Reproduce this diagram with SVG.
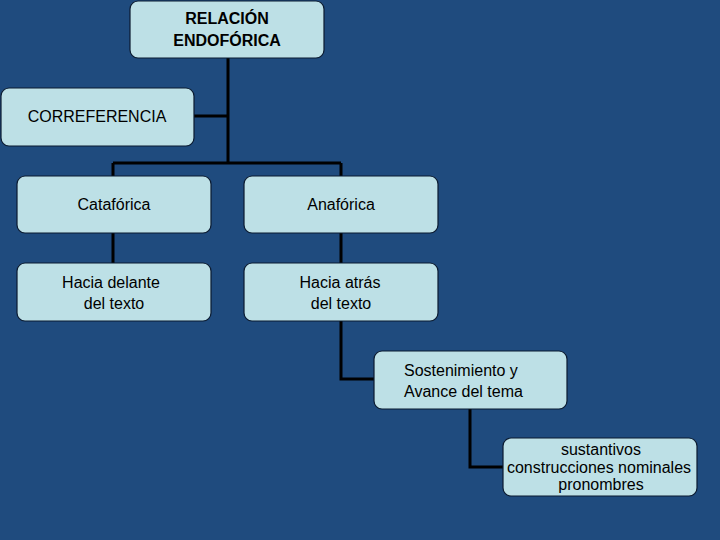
<svg xmlns="http://www.w3.org/2000/svg" width="720" height="540" viewBox="0 0 720 540">
<style>
.b{fill:#bde0e6;stroke:#0a1a30;stroke-width:1.2}
.t{font-family:"Liberation Sans",Arial,sans-serif;font-size:16px;fill:#000;text-anchor:middle}
.c{fill:none;stroke:#000;stroke-width:3}
</style>
<rect width="720" height="540" fill="#1f4b7e"/>
<g id="connectors">
<path class="c" d="M228 58V163M194 116H228M113 163H341M113 163V176M341 163V176M113 233V263M341 233V263M341 321V379H374M470 409V467H503"/>
</g>
<g id="root"><rect class="b" x="130" y="1" width="194" height="57" rx="8"/><text class="t" font-weight="bold" x="227" y="24">RELACIÓN</text><text class="t" font-weight="bold" x="227" y="46">ENDOFÓRICA</text></g>
<g id="corref"><rect class="b" x="1" y="88" width="193" height="58" rx="8"/><text class="t" x="97" y="122" font-size="15">CORREFERENCIA</text></g>
<g id="catafora"><rect class="b" x="17" y="176" width="194" height="57" rx="8"/><text class="t" x="114" y="210">Catafórica</text></g>
<g id="anafora"><rect class="b" x="244" y="176" width="194" height="57" rx="8"/><text class="t" x="341" y="210">Anafórica</text></g>
<g id="delante"><rect class="b" x="17" y="263" width="194" height="58" rx="8"/><text class="t" x="111" y="288">Hacia delante</text><text class="t" x="114" y="309">del texto</text></g>
<g id="atras"><rect class="b" x="244" y="263" width="194" height="58" rx="8"/><text class="t" x="340" y="288">Hacia atrás</text><text class="t" x="341" y="309">del texto</text></g>
<g id="sosten"><rect class="b" x="374" y="351" width="193" height="58" rx="8"/><text class="t" x="404" y="376" text-anchor="start" style="text-anchor:start">Sostenimiento y</text><text class="t" x="404" y="397" style="text-anchor:start">Avance del tema</text></g>
<g id="sust"><rect class="b" x="503" y="438" width="194" height="58" rx="8"/><text class="t" font-size="12" x="601" y="455">sustantivos</text><text class="t" font-size="12" x="599" y="473">construcciones nominales</text><text class="t" font-size="12" x="601" y="490">pronombres</text></g>
</svg>
